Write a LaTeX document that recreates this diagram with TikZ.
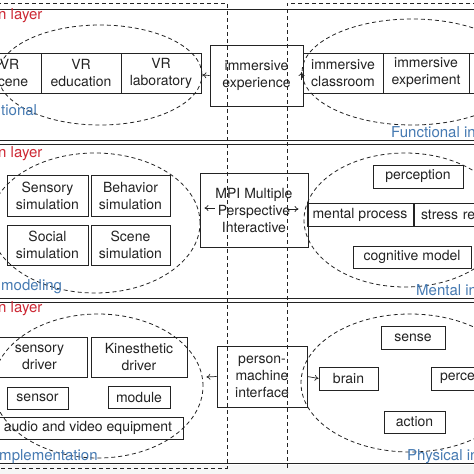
\documentclass[tikz,border=0pt]{standalone}
\usepackage{fontspec}
\setmainfont{TeX Gyre Heros}
\usetikzlibrary{shapes.geometric,calc,arrows.meta}
\definecolor{labred}{RGB}{205,40,52}
\definecolor{labblue}{RGB}{70,122,178}
\definecolor{ink}{RGB}{35,35,35}
\tikzset{
  bx/.style={draw=ink, line width=0.85pt, inner sep=0pt, align=center, text=ink,
    font=\fontsize{14}{17}\selectfont},
  ell/.style={ellipse, draw=ink, line width=0.8pt, dash pattern=on 4pt off 3pt, inner sep=0pt},
  panel/.style={draw=ink, line width=0.9pt},
  sepline/.style={draw=ink, line width=0.9pt, dash pattern=on 4pt off 3pt},
  arr/.style={draw=ink, line width=0.7pt, -{To[length=4pt,width=6pt]}},
  redlab/.style={text=labred, anchor=west, inner sep=0pt, font=\fontsize{15}{17}\selectfont},
  bluelab/.style={text=labblue, anchor=west, inner sep=0pt, font=\fontsize{15}{17}\selectfont}
}
\begin{document}
\begin{tikzpicture}[x=1pt,y=-1pt]
\clip (0,0) rectangle (474,474);
\fill[white] (0,0) rectangle (474,474);
\fill[gray!7] (0,465) rectangle (474,474);
% layer panels
\draw[panel] (-10,9) rectangle (484,140);
\draw[panel] (-10,144) rectangle (484,298);
\draw[panel] (-10,302) rectangle (484,463);
% dashed frames
\draw[sepline] (-10,3) -- (227,3) -- (227,468) -- (-10,468);
\draw[sepline] (484,3) -- (287,3) -- (287,468);

% ---------- layer 1 ----------
\node[ell, minimum width=204pt, minimum height=100pt] (L1) at (100,75) {};
\node[ell, minimum width=220pt, minimum height=106pt] (R1) at (412,72) {};
\node[bx, minimum width=63pt, minimum height=40pt] (vrscene) at (9.5,73) {VR\\scene};
\node[bx, minimum width=80pt, minimum height=40pt] (vredu) at (81,73) {VR\\education};
\node[bx, minimum width=80pt, minimum height=40pt] (vrlab) at (161,73) {VR\\laboratory};
\node[bx, minimum width=93pt, minimum height=61pt] (immexp) at (256.5,75.5) {immersive\\experience};
\node[bx, minimum width=80pt, minimum height=40pt] (immcls) at (343,73) {immersive\\classroom};
\node[bx, minimum width=86pt, minimum height=40pt] (immexpt) at (426,73) {immersive\\experiment};
\node[bx, minimum width=80pt, minimum height=40pt] (immmore) at (509,73) {};
\draw[arr] (immexp.west) -- (L1.east);
\draw[arr] ($(R1.west)+(0,8)$) -- (R1.west);
\node[redlab] (red1) at (-2,16) {n layer};
\node[bluelab] (blue1l) at (1,110) {tional};
\node[bluelab] (blue1r) at (391,132) {Functional in};

% ---------- layer 2 ----------
\node[ell, minimum width=210pt, minimum height=140pt] (L2) at (95,223) {};
\node[ell, minimum width=202pt, minimum height=134pt] (R2) at (405,220) {};
\node[bx, minimum width=81pt, minimum height=41pt] (sensim) at (47.5,195.5) {Sensory\\simulation};
\node[bx, minimum width=79pt, minimum height=41pt] (behsim) at (130.5,195.5) {Behavior\\simulation};
\node[bx, minimum width=81pt, minimum height=40pt] (socsim) at (47.5,245) {Social\\simulation};
\node[bx, minimum width=79pt, minimum height=40pt] (scesim) at (130.5,245) {Scene\\simulation};
\node[bx, minimum width=108pt, minimum height=74pt] (mpi) at (254,210) {MPI Multiple\\Perspective\\Interactive};
\node[bx, minimum width=90pt, minimum height=23pt] (perc) at (418,176.5) {perception};
\node[bx, minimum width=106pt, minimum height=23pt] (mentproc) at (360,214.5) {mental process};
\node[bx, minimum width=110pt, minimum height=23pt, text width=96pt, align=left] (stress) at (469,214.5) {stress re};
\node[bx, minimum width=118pt, minimum height=22pt] (cogmod) at (412,257) {cognitive model};
\draw[arr] ($(mpi.west)+(15,-2)$) -- ($(L2.east)+(4,-15)$);
\draw[arr] ($(mpi.east)+(-21,-1)$) -- ($(R2.west)+(-5,-11)$);
\node[redlab] (red2) at (-2,154) {n layer};
\node[bluelab] (blue2l) at (1,287) {modeling};
\node[bluelab] (blue2r) at (416,290) {Mental in};

% ---------- layer 3 ----------
\node[ell, minimum width=210pt, minimum height=144pt] (L3) at (98,386) {};
\node[ell, minimum width=218pt, minimum height=138pt] (R3) at (410,383) {};
\node[bx, minimum width=95pt, minimum height=40pt] (sensdrv) at (39.5,357) {sensory\\driver};
\node[bx, minimum width=96pt, minimum height=40pt] (kindrv) at (139,357) {Kinesthetic\\driver};
\node[bx, minimum width=61pt, minimum height=22pt] (sensor) at (37.5,398) {sensor};
\node[bx, minimum width=62pt, minimum height=22pt] (module) at (139,397) {module};
\node[bx, minimum width=190pt, minimum height=22pt] (audio) at (88,428) {audio and video equipment};
\node[bx, minimum width=90pt, minimum height=61pt] (pmi) at (262,376.5) {person-\\machine\\interface};
\node[bx, minimum width=59pt, minimum height=23pt] (brain) at (348.5,378.5) {brain};
\node[bx, minimum width=64pt, minimum height=23pt] (sense) at (413,337.5) {sense};
\node[bx, minimum width=61pt, minimum height=22pt] (action) at (414.5,422) {action};
\node[bx, minimum width=90pt, minimum height=23pt, text width=72pt, align=left] (percep) at (476,378.5) {perce};
\draw[arr] (pmi.west) -- ($(L3.east)+(3,-9)$);
\draw[arr] (pmi.east) -- (brain.west);
\node[redlab] (red3) at (-2,309) {n layer};
\node[bluelab] (blue3l) at (-1,457) {mplementation};
\node[bluelab] (blue3r) at (407,457) {Physical in};
\end{tikzpicture}
\end{document}
